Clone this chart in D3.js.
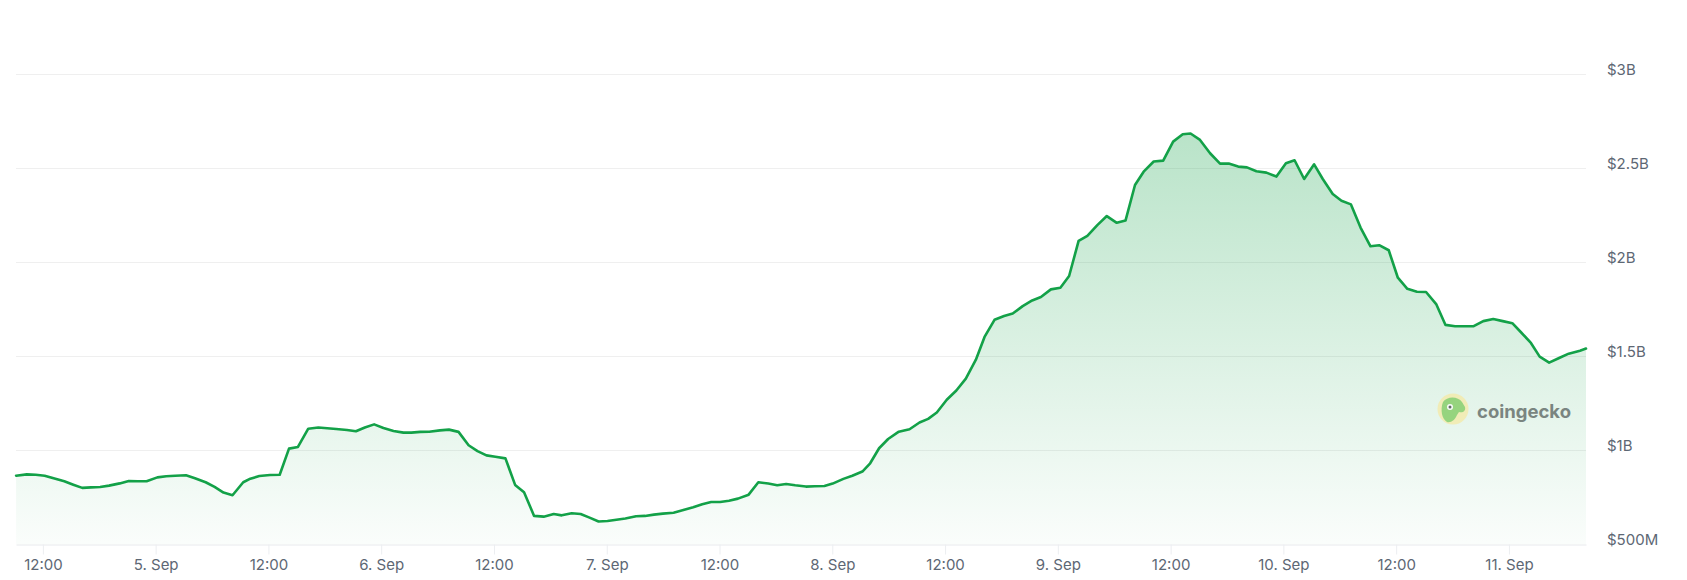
<!DOCTYPE html>
<html>
<head>
<meta charset="utf-8">
<script src="https://cdn.jsdelivr.net/npm/d3@7"></script>
<style>
  html, body { margin: 0; padding: 0; background: #fff; }
  svg { display: block; }
  text { font-family: Inter, "Noto Sans", sans-serif; }
</style>
</head>
<body>
<svg id="chart" width="1687" height="580"></svg>
<script>
// ---- data (hours since 4 Sep 00:00 UTC, volume in billions USD) ----
const hours = [
  9.15, 10.29, 11.24, 12.19, 13.14, 14.28, 15.24, 16.19, 17.14, 18.09, 19.04, 20.18,
  21.14, 22.09, 23.04, 24.18, 25.13, 26.08, 27.23, 28.18, 29.32, 30.27, 31.22, 32.18,
  33.32, 34.08, 35.03, 36.17, 37.2, 38.19, 39.14, 40.24, 41.31, 43.21, 44.36, 45.31,
  46.26, 47.25, 48.24, 49.31, 50.37, 51.21, 52.16, 53.11, 54.25, 55.21, 56.23, 57.30,
  58.25, 59.20, 60.15, 61.22, 62.25, 63.20, 64.27, 65.29, 66.36, 67.21, 68.27, 69.22,
  70.17, 71.13, 72.08, 73.03, 73.98, 75.12, 76.07, 77.02, 77.97, 79.11, 80.06, 81.20,
  82.16, 83.11, 84.06, 85.01, 85.96, 87.10, 88.13, 89.19, 90.14, 91.09, 92.05, 93.19,
  94.14, 95.16, 96.04, 97.18, 98.13, 99.20, 100.03, 100.98, 101.94, 103.08, 104.22, 105.28,
  106.2, 107.12, 108.18, 109.2, 110.21, 111.28, 112.2, 113.26, 114.28, 115.2, 116.26, 117.27,
  118.2, 119.26, 120.27, 121.2, 122.21, 123.14, 124.2, 125.21, 126.27, 127.2, 128.21, 129.13,
  130.2, 131.21, 132.27, 133.29, 134.12, 135.13, 136.2, 137.26, 138.18, 139.19, 140.12, 141.13,
  142.19, 143.26, 144.27, 145.19, 146.21, 147.27, 148.19, 149.25, 150.18, 151.19, 152.21, 153.27,
  154.19, 155.21, 156.18, 157.19, 158.21, 159.18, 160.28, 161.25, 162.27, 163.19, 164.25, 165.27,
  166.33, 167.34, 168.36, 169.28, 170.34, 171.27, 172.28, 173.34, 174.36, 175.56, 176.2
];
const volumeB = [
  0.865, 0.872, 0.870, 0.865, 0.851, 0.835, 0.817, 0.800, 0.803, 0.805, 0.812, 0.824,
  0.837, 0.835, 0.835, 0.856, 0.862, 0.865, 0.867, 0.851, 0.830, 0.805, 0.775, 0.761,
  0.830, 0.849, 0.863, 0.869, 0.870, 1.009, 1.018, 1.115, 1.121, 1.113, 1.108, 1.101,
  1.121, 1.138, 1.119, 1.103, 1.094, 1.094, 1.098, 1.099, 1.106, 1.110, 1.098, 1.027,
  0.996, 0.973, 0.966, 0.957, 0.816, 0.777, 0.651, 0.647, 0.661, 0.654, 0.665, 0.661,
  0.642, 0.621, 0.624, 0.631, 0.637, 0.649, 0.651, 0.658, 0.663, 0.668, 0.681, 0.697,
  0.713, 0.725, 0.725, 0.732, 0.743, 0.764, 0.830, 0.823, 0.814, 0.821, 0.814, 0.807,
  0.809, 0.810, 0.823, 0.848, 0.865, 0.887, 0.931, 1.011, 1.060, 1.099, 1.112, 1.148,
  1.167, 1.201, 1.269, 1.318, 1.381, 1.482, 1.603, 1.694, 1.714, 1.728, 1.767, 1.797,
  1.815, 1.856, 1.865, 1.927, 2.114, 2.141, 2.198, 2.246, 2.210, 2.222, 2.411, 2.482,
  2.536, 2.541, 2.642, 2.681, 2.685, 2.651, 2.580, 2.525, 2.525, 2.509, 2.505, 2.484,
  2.477, 2.456, 2.527, 2.543, 2.443, 2.521, 2.443, 2.363, 2.327, 2.308, 2.185, 2.085,
  2.091, 2.064, 1.918, 1.859, 1.843, 1.842, 1.776, 1.667, 1.660, 1.660, 1.660, 1.687,
  1.698, 1.687, 1.676, 1.628, 1.571, 1.498, 1.466, 1.491, 1.514, 1.530, 1.541
];
const xDomainHours = [9.14, 176.2];
const yTicks = [0.5, 1, 1.5, 2, 2.5, 3];
const yTickLabels = ["$500M", "$1B", "$1.5B", "$2B", "$2.5B", "$3B"];
const brandText = "coingecko";

// ---- setup ----
const startMs = Date.UTC(2024, 8, 4);
const toDate = h => new Date(startMs + h * 3600e3);
const data = hours.map((h, i) => ({ t: toDate(h), v: volumeB[i] }));

const svg = d3.select("#chart");
const plot = { left: 16, right: 1586, top: 74.3, bottom: 544.3 };
const labelColor = "#5d6774";
const labelFont = "Inter, 'Noto Sans', sans-serif";

const x = d3.scaleUtc().domain(xDomainHours.map(toDate)).range([plot.left, plot.right]);
const y = d3.scaleLinear().domain([0.5, 3]).range([plot.bottom, plot.top]);

// gradient
const defs = svg.append("defs");
const grad = defs.append("linearGradient").attr("id", "areaGrad")
  .attr("x1", 0).attr("y1", 0).attr("x2", 0).attr("y2", 1);
grad.append("stop").attr("offset", "0%").attr("stop-color", "#16a34a").attr("stop-opacity", 0.3);
grad.append("stop").attr("offset", "100%").attr("stop-color", "#16a34a").attr("stop-opacity", 0.02);

// grid lines
svg.append("g").selectAll("line").data(yTicks.slice(1)).join("line")
  .attr("x1", plot.left).attr("x2", plot.right)
  .attr("y1", d => Math.round(y(d)) + 0.5).attr("y2", d => Math.round(y(d)) + 0.5)
  .attr("stroke", "#efefef").attr("stroke-width", 1);

// area
const area = d3.area().x(d => x(d.t)).y0(y(0.5)).y1(d => y(d.v));
const line = d3.line().x(d => x(d.t)).y(d => y(d.v));
svg.append("path").datum(data).attr("d", area).attr("fill", "url(#areaGrad)");

// x axis
const fmt = d => (d.getUTCHours() === 0 ? d3.utcFormat("%-d. %b")(d) : d3.utcFormat("%H:%M")(d));
const xAxis = d3.axisBottom(x).ticks(d3.utcHour.every(12)).tickFormat(fmt)
  .tickSize(10).tickPadding(5).tickSizeOuter(0);
const gx = svg.append("g").attr("transform", `translate(0,${Math.round(plot.bottom) + 0.5})`).call(xAxis);
gx.select(".domain").attr("stroke", "#e8eaed");
gx.selectAll(".tick line").attr("stroke", "#eceef1");
gx.selectAll(".tick text").attr("fill", labelColor).style("font-size", "15px")
  .style("font-family", labelFont);

// line on top
svg.append("path").datum(data).attr("d", line)
  .attr("fill", "none").attr("stroke", "#13a148").attr("stroke-width", 2.6)
  .attr("stroke-linejoin", "round").attr("stroke-linecap", "round");

// y axis labels (right)
const yAxis = d3.axisRight(y).tickValues(yTicks)
  .tickFormat((d, i) => yTickLabels[i]).tickSize(0).tickPadding(21);
const gy = svg.append("g").attr("transform", `translate(${plot.right},0)`).call(yAxis);
gy.select(".domain").remove();
gy.selectAll(".tick text").attr("dy", null).attr("y", 0)
  .attr("fill", labelColor).style("font-size", "15px")
  .style("font-family", labelFont);

// watermark
const wm = svg.append("g").attr("transform", "translate(1453,409)").attr("opacity", 0.75);
wm.append("circle").attr("r", 15.5).attr("fill", "#f5eaa6");
wm.append("path")
  .attr("d", "M -10,-7 C -6,-13 5,-13 9,-7 L 12,-2 C 13,2 10,4 6,3 L 4,6 C 2,11 -2,14 -6,13 C -11,10 -13,1 -10,-7 Z")
  .attr("fill", "#7cc95a");
wm.append("circle").attr("cx", -3).attr("cy", -2).attr("r", 3).attr("fill", "#ffffff");
wm.append("circle").attr("cx", -3).attr("cy", -2).attr("r", 1.5).attr("fill", "#3a3a3a");
svg.append("text").attr("x", 1477).attr("y", 412).attr("dy", "0.35em")
  .attr("fill", "#7a8580").style("font-size", "18.5px").style("font-weight", 700)
  .style("font-family", labelFont)
  .text(brandText);
</script>
</body>
</html>
